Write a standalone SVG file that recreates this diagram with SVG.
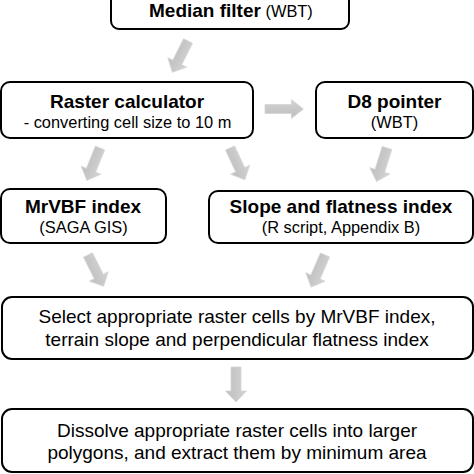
<svg xmlns="http://www.w3.org/2000/svg" width="474" height="474" viewBox="0 0 474 474">
<style>
.box{fill:#fff;stroke:#000;stroke-width:2}
.b{font-family:"Liberation Sans",Arial,sans-serif;font-weight:bold;font-size:19px;fill:#000;text-anchor:middle}
.r{font-family:"Liberation Sans",Arial,sans-serif;font-size:19px;fill:#000;text-anchor:middle}
.s{font-family:"Liberation Sans",Arial,sans-serif;font-size:16.4px;fill:#000;text-anchor:middle}
.arr{fill:url(#g);stroke:#d6d6d6;stroke-width:0.8}
</style>
<defs>
<linearGradient id="g" x1="0" y1="0" x2="0" y2="1">
<stop offset="0" stop-color="#d4d4d4"/>
<stop offset="1" stop-color="#bdbdbd"/>
</linearGradient>
<path id="a" d="M0,-5 L24,-5 L24,-10.5 L35,0 L24,10.5 L24,5 L0,5 Z"/>
</defs>
<rect width="474" height="474" fill="#fff"/>
<g id="connectors">
<use href="#a" class="arr" transform="translate(188,41) rotate(116.6)"/>
<use href="#a" class="arr" transform="translate(265,109) scale(1.1,0.9)"/>
<use href="#a" class="arr" transform="translate(100,148) rotate(112)"/>
<use href="#a" class="arr" transform="translate(230,148) rotate(64.9)"/>
<use href="#a" class="arr" transform="translate(387,148) rotate(107.4)"/>
<use href="#a" class="arr" transform="translate(88,255) rotate(63.4)"/>
<use href="#a" class="arr" transform="translate(325,255) rotate(113.4)"/>
<use href="#a" class="arr" transform="translate(236,367) rotate(90)"/>
</g>
<g id="median">
<rect class="box" x="111" y="-12" width="238" height="41" rx="8"/>
<text x="230" y="17"><tspan class="b" style="text-anchor:start" x="149">Median filter</tspan><tspan class="s" style="text-anchor:start"> (WBT)</tspan></text>
</g>
<g id="raster">
<rect class="box" x="1" y="82" width="252" height="56" rx="9"/>
<text class="b" x="127" y="108">Raster calculator</text>
<text class="s" x="127.5" y="128">- converting cell size to 10 m</text>
</g>
<g id="d8">
<rect class="box" x="316" y="82" width="157" height="56" rx="9"/>
<text class="b" x="394.5" y="108">D8 pointer</text>
<text class="s" x="394.5" y="128">(WBT)</text>
</g>
<g id="mrvbf">
<rect class="box" x="1" y="189" width="165" height="54" rx="9"/>
<text class="b" x="83" y="213">MrVBF index</text>
<text class="s" x="83.5" y="233">(SAGA GIS)</text>
</g>
<g id="slope">
<rect class="box" x="209" y="191" width="264" height="52" rx="9"/>
<text class="b" x="341" y="213">Slope and flatness index</text>
<text class="s" x="341" y="233">(R script, Appendix B)</text>
</g>
<g id="select">
<rect class="box" x="2" y="297" width="471" height="62" rx="10"/>
<text class="r" x="237" y="323">Select appropriate raster cells by MrVBF index,</text>
<text class="r" x="237" y="346">terrain slope and perpendicular flatness index</text>
</g>
<g id="dissolve">
<rect class="box" x="2" y="409" width="471" height="63" rx="10"/>
<text class="r" x="237" y="437">Dissolve appropriate raster cells into larger</text>
<text class="r" x="237" y="459">polygons, and extract them by minimum area</text>
</g>
</svg>
